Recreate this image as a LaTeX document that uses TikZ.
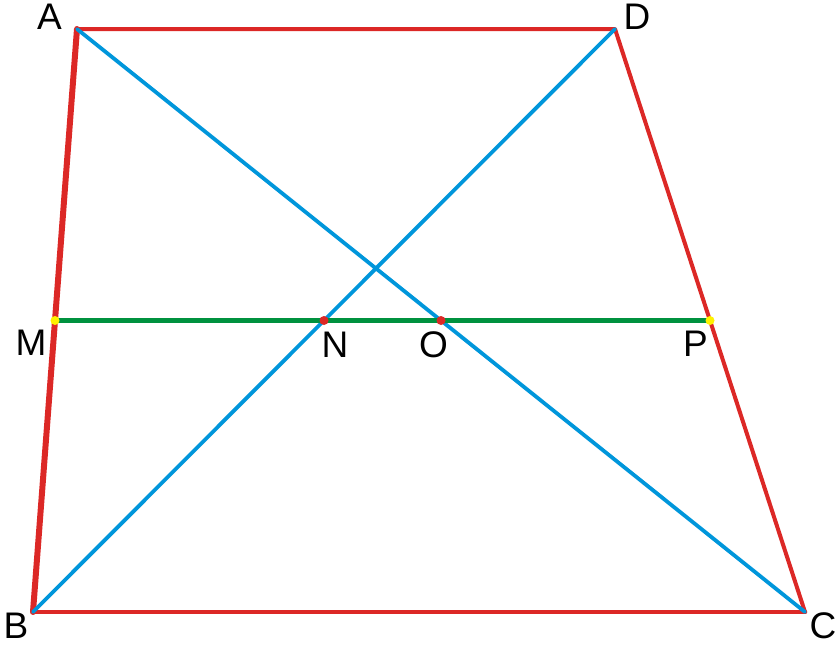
\documentclass[tikz,border=0pt]{standalone}
\usepackage{fontspec}
\setmainfont{Liberation Sans}
\usetikzlibrary{calc}
\definecolor{sidered}{RGB}{220,40,38}
\definecolor{diagblue}{RGB}{0,150,219}
\definecolor{midgreen}{RGB}{0,146,63}
\begin{document}
\begin{tikzpicture}[x=1pt, y=-1pt, font=\fontsize{37}{40}\selectfont, line join=round, line cap=round,
 lbl/.style={inner sep=0pt}, dotpt/.style={radius=4.5pt}]
 \useasboundingbox (0,0) rectangle (839,645);
 \coordinate (A) at (77,29);
 \coordinate (D) at (615,29);
 \coordinate (B) at (33,612);
 \coordinate (C) at (805,612);
 \coordinate (M) at ($(A)!0.5!(B)$);
 \coordinate (P) at ($(D)!0.5!(C)$);
 \coordinate (N) at ($(B)!0.5!(D)$);
 \coordinate (O) at ($(A)!0.5!(C)$);
 \draw[sidered, line width=6pt] (A)--(B);
 \draw[sidered, line width=4pt] (A)--(D)--(C);
 \draw[sidered, line width=4.5pt] (B)--(C);
 \draw[diagblue, line width=3.8pt] (A)--(C) (B)--(D);
 \draw[midgreen, line width=4.5pt, line cap=butt] (M)--(P);
 \fill[yellow] (M) circle[dotpt] (P) circle[dotpt];
 \fill[sidered] (N) circle[dotpt] (O) circle[dotpt];
 \node[lbl] (lA) at (49.5,17) {A};
 \node[lbl] (lD) at (637,17) {D};
 \node[lbl] (lB) at (16,626) {B};
 \node[lbl] (lC) at (823,626) {C};
 \node[lbl] (lM) at (31,343) {M};
 \node[lbl] (lN) at (335,345) {N};
 \node[lbl] (lO) at (433.5,345) {O};
 \node[lbl] (lP) at (695.5,344) {P};
\end{tikzpicture}
\end{document}
